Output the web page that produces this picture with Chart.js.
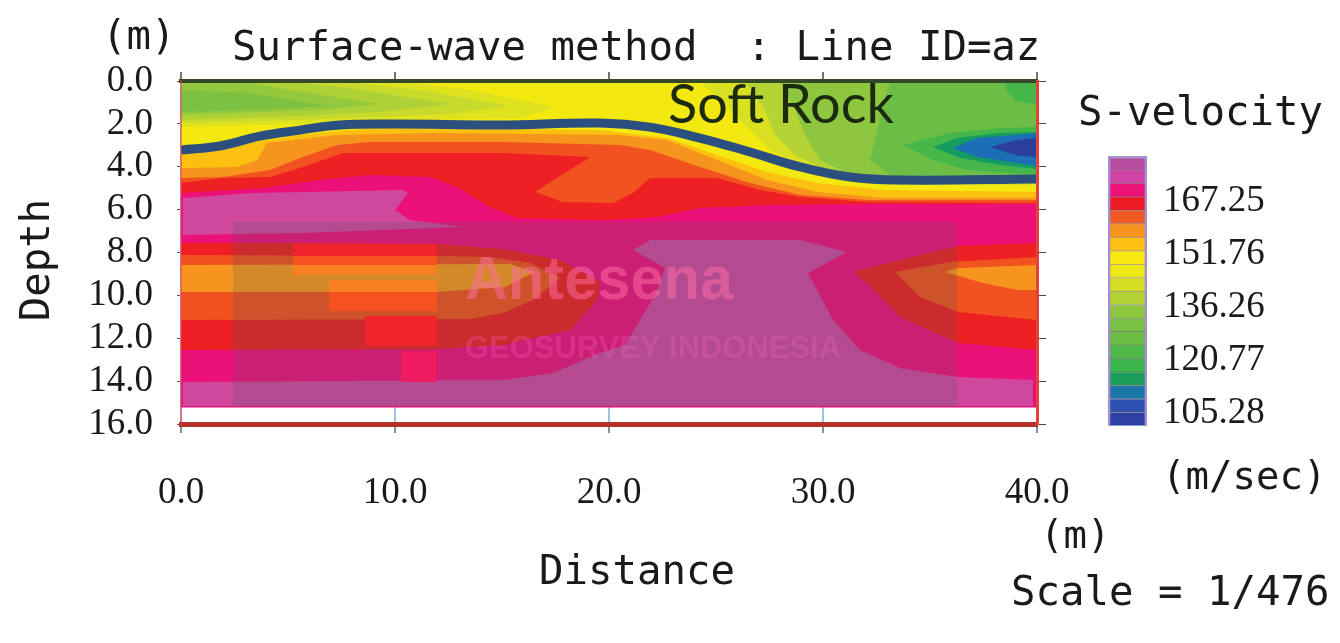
<!DOCTYPE html>
<html>
<head>
<meta charset="utf-8">
<script src="https://cdn.jsdelivr.net/npm/chart.js@4"></script>
<style>
  html, body { margin: 0; background: #fff; }
  #wrap { position: relative; width: 1340px; height: 643px; overflow: hidden; }
  canvas { position: absolute; }
</style>
</head>
<body>
<div id="wrap">
  <canvas id="section" width="1340" height="643" style="left:0;top:0"></canvas>
  <canvas id="scalebar" width="180" height="330" style="left:1108px;top:126px"></canvas>
</div>
<script>
// contour bands as [distance, depth] outlines in metres
const baseBand = [[0,0],[40,0],[40,15.23],[0,15.23]];
const upperPurple = [[0.09,5.46],[3.36,5.22],[10.37,5.08],[10.61,5.22],[10,6.02],[10.70,6.48],[13.18,6.81],[5.70,7.09],[0.09,7.18]];
const lowerPurple = [[0.09,14.04],[15.05,13.95],[17.38,13.62],[19.58,12.69],[20.75,12.31],[22.15,9.98],[22.62,8.72],[21.12,7.88],[21.92,7.42],[28.93,7.42],[31.12,7.98],[29.30,8.96],[30.47,11.15],[31.73,12.55],[33.60,13.39],[36.31,13.81],[39.81,13.95],[39.81,15.16],[0.09,15.16]];

const leftRed = [[0,7.56],[5.56,7.56],[11.96,7.60],[15.05,7.84],[17.71,8.35],[19.58,9.38],[19.44,10.21],[18.18,11.61],[15.05,12.31],[11.96,12.50],[0,12.55]];
const leftOrangeRed = [[0,8.12],[11.96,8.16],[14.44,8.21],[16.31,8.49],[17.71,9.19],[16.45,10.21],[15.05,10.82],[13.50,11.10],[0,11.15]];
const leftOrange = [[0,8.58],[15.37,8.54],[16.54,8.91],[15.14,9.61],[11.96,9.84],[0,9.84]];
const rightRed = [[31.40,8.91],[33.60,8.35],[36.31,7.70],[40,7.56],[40,12.55],[36.31,12.22],[33.60,11.01],[32.06,9.42]];
const rightOrangeRed = [[33.36,8.91],[35.93,8.44],[40,8.21],[40,11.15],[36.31,10.77],[34.53,10.07]];
const rightOrange = [[35.70,8.91],[36.31,8.72],[40,8.58],[40,9.75],[39.07,9.75],[37.48,9.42]];

const topRed = [[0,0],[0,5.22],[3.83,4.99],[6.50,4.62],[8.83,4.38],[11.64,4.48],[12.90,4.94],[14.44,5.88],[15.70,6.39],[19.58,6.48],[22.24,6.34],[24.25,5.92],[27.38,5.78],[32.06,5.74],[40,5.74],[40,0]];
const topOrangeRed = [[0,0],[0,4.76],[1.96,4.52],[4.16,4.48],[5.70,4.01],[7.57,3.36],[10.37,3.36],[15.05,3.36],[19.11,3.54],[16.54,5.18],[17.85,5.64],[20.19,5.69],[21.12,5.22],[21.92,4.52],[25.05,4.52],[27.06,5.08],[28.93,5.41],[32.06,5.64],[40,5.69],[40,0]];
const topOrange = [[0,0],[0,4.52],[1.96,4.48],[4.16,4.15],[5.70,3.54],[7.29,2.99],[8.83,2.85],[15.05,2.85],[20.51,2.99],[21.92,3.22],[24.25,4.01],[26.59,4.76],[28.93,5.32],[32.06,5.55],[40,5.55],[40,0]];
const topAmber = [[0,0],[0,4.06],[2.62,4.01],[3.55,3.68],[4.02,2.89],[7.29,2.52],[11.96,2.43],[20.51,2.52],[22.71,2.75],[25.05,3.68],[27.38,4.62],[29.72,5.18],[32.80,5.46],[40,5.46],[40,0]];
const topYellow = [[0,0],[0,3.22],[2.62,2.99],[5.56,2.52],[8.83,2.19],[11.96,2.19],[19.58,2.29],[22.71,2.66],[25.05,3.45],[27.38,4.24],[29.72,4.76],[32.80,5.08],[40,5.18],[40,0]];

const leftLimeA = [[0,0],[10.23,0],[13.50,0.42],[17.48,1.21],[15.84,1.73],[10.23,1.82],[5.56,2.01],[0,2.15]];
const leftLimeB = [[0,0],[7.43,0],[11.17,0.42],[15.37,1.17],[12.57,1.54],[5.56,1.82],[0,1.96]];
const leftLimeC = [[0,0],[4.81,0],[7.85,0.33],[12.57,1.07],[9.30,1.45],[5.56,1.63],[0,1.82]];
const leftGreenA = [[0,0.09],[2.76,0],[5.09,0.42],[9.30,1.07],[6.50,1.35],[0,1.59]];
const leftGreenB = [[0,0.42],[3.22,0.56],[6.96,1.17],[3.22,1.35],[0,1.45]];

const rightLimeA = [[24.25,0],[40,0],[40,4.85],[32.66,4.85],[29.86,4.38],[27.52,3.22],[26.36,2.05],[25.19,0.89]];
const rightLimeB = [[26.36,0],[40,0],[40,4.76],[32.66,4.76],[30.33,4.24],[28.69,3.45],[27.76,2.52],[27.29,1.35]];
const rightLimeC = [[27.99,0],[40,0],[40,4.66],[33.13,4.66],[31.26,4.38],[29.86,3.68],[29.16,2.52],[28.69,1.35]];
const rightGreenA = [[33.13,0],[40,0],[40,4.66],[34.07,4.66],[33.13,4.38],[32.20,3.68],[32.66,1.82]];
const cornerGreen = [[38.55,0],[40,0],[40,1.12],[38.97,0.89],[38.55,0.42]];
const lowLensGreen = [[33.74,2.99],[35.93,2.43],[38.27,2.19],[40,2.15],[40,4.38],[36.73,4.15],[35.14,3.68]];
const lowLensTeal = [[35.14,3.08],[36.26,2.66],[38.27,2.43],[40,2.38],[40,4.10],[38.27,3.92],[36.40,3.59]];
const lowLensBlue = [[36.07,3.13],[37.20,2.66],[39.07,2.52],[40,2.43],[40,3.97],[39.07,3.82],[37.20,3.54]];
const lowLensNavy = [[37.80,3.08],[39.07,2.75],[40,2.66],[40,3.54],[39.07,3.47]];

// processing window, dims everything under it
const windowBand = [[2.43,6.58],[36.26,6.58],[36.26,15.16],[2.43,15.16]];

// undimmed blocks left of x=12
const stepRedA = [[5.23,7.60],[11.96,7.60],[11.96,8.16],[5.23,8.16]];
const stepOrangeRedA = [[5.23,8.16],[11.96,8.16],[11.96,8.58],[5.23,8.58]];
const stepOrangeA = [[5.23,8.58],[11.96,8.58],[11.96,9.05],[5.23,9.05]];
const stepOrangeB = [[6.92,9.28],[11.96,9.28],[11.96,9.84],[6.92,9.84]];
const stepOrangeRedB = [[6.92,9.84],[11.96,9.84],[11.96,10.73],[6.92,10.73]];
const stepRedC = [[8.60,10.96],[11.96,10.96],[11.96,12.36],[8.60,12.36]];
const stepPink = [[10.28,12.59],[11.96,12.59],[11.96,14.04],[10.28,14.04]];

// bedrock interface
const interfaceLine = [[0,3.22],[1.82,3.03],[3.69,2.57],[5.56,2.29],[7.43,2.05],[10.23,2.01],[14.91,2.05],[19.58,1.96],[21.92,2.15],[24.25,2.66],[26.59,3.31],[28.93,4.01],[31.26,4.48],[33.60,4.62],[40,4.57]];

// scale bar
const bandEdges = [101.76,105.70,109.63,113.57,117.50,121.44,125.37,129.31,133.24,137.18,141.11,145.05,148.98,152.92,156.85,160.79,164.72,168.66,172.59,176.53,180.47];
const bandColors = ['#2e3fa3','#2e50b0','#1c75a8','#1b9e5a','#39b54a','#4eb848','#6cbd45','#79c142','#8dc63f','#b5d334','#d7df23','#eee814','#fbea11','#fdc010','#f7941d','#f15a22','#ed1c24','#ec1278','#cf45a6','#b94ea0'];
const barTicks = [105.28,120.77,136.26,151.76,167.25];

const shapes = [
  [baseBand, '#ec1178'],
  [upperPurple, '#d0489e'], [lowerPurple, '#d0489e'],
  [leftRed, '#ee2024'], [leftOrangeRed, '#f1521f'], [leftOrange, '#f7941e'],
  [rightRed, '#ee2024'], [rightOrangeRed, '#f1521f'], [rightOrange, '#f7941e'],
  [topRed, '#ee2024'], [topOrangeRed, '#f1521f'], [topOrange, '#f7941e'],
  [topAmber, '#fcc010'], [topYellow, '#f3e80f'],
  [leftLimeA, '#dfe21e'], [leftLimeB, '#c8da2b'], [leftLimeC, '#aed136'],
  [leftGreenA, '#95c93d'], [leftGreenB, '#7cc142'],
  [rightLimeA, '#d9e021'], [rightLimeB, '#b5d334'], [rightLimeC, '#8dc63f'], [rightGreenA, '#6cbd45'],
  [cornerGreen, '#45b649'], [lowLensGreen, '#45b649'], [lowLensTeal, '#169b62'],
  [lowLensBlue, '#1b6fb5'], [lowLensNavy, '#2a3f9d'],
  [windowBand, 'rgba(70,90,90,0.2)'],
  [stepRedA, '#f0242a'], [stepOrangeRedA, '#f5521f'], [stepOrangeA, '#f97f20'],
  [stepOrangeB, '#f97f20'], [stepOrangeRedB, '#f5521f'], [stepRedC, '#f0242a'], [stepPink, '#ee1a62']
];

const toPoints = arr => arr.map(p => ({ x: p[0], y: p[1] }));

// chart draws low order last, first layer needs the highest order
const datasets = shapes.map((s, i) => ({
  data: toPoints(s[0]),
  showLine: true,
  fill: 'shape',
  backgroundColor: s[1],
  borderWidth: 0,
  pointRadius: 0,
  order: shapes.length + 1 - i
}));
datasets.push({
  data: toPoints(interfaceLine),
  showLine: true,
  fill: false,
  borderColor: '#2b5080',
  borderWidth: 9,
  tension: 0.4,
  pointRadius: 0,
  order: 0
});

const MONO = '"DejaVu Sans Mono"';
const captions = [
  { text: 'Surface-wave method  : Line ID=az', x: 232, y: 49, font: '40.7px ' + MONO },
  { text: '(m)', x: 102, y: 38, font: '40.7px ' + MONO },
  { text: 'S-velocity', x: 1078, y: 114, font: '40.7px ' + MONO },
  { text: '(m/sec)', x: 1162, y: 479, font: '39px ' + MONO },
  { text: '(m)', x: 1040, y: 538, font: '39px ' + MONO },
  { text: 'Distance', x: 539, y: 573, font: '40.7px ' + MONO },
  { text: 'Scale = 1/476', x: 1011, y: 594, font: '40.7px ' + MONO },
  { text: 'Depth', x: 38, y: 260, font: '40.7px ' + MONO, rotate: -Math.PI / 2, align: 'center' }
];
const overlays = [
  { text: 'Soft Rock', x: 668, y: 106, font: '54px Lato', color: '#1c2a10', width: 226 },
  { text: 'Antesena', x: 465, y: 282, font: 'bold 62px "Liberation Sans"', color: 'rgba(255,110,165,0.5)', width: 268 },
  { text: 'GEOSURVEY INDONESIA', x: 465, y: 349, font: 'bold 31px "Liberation Sans"', color: 'rgba(250,100,210,0.25)', width: 376 }
];

function putText(ctx, t, color) {
  ctx.save();
  ctx.font = t.font;
  ctx.fillStyle = t.color || color;
  ctx.textBaseline = 'middle';
  ctx.textAlign = t.align || 'left';
  ctx.translate(t.x, t.y);
  if (t.rotate) ctx.rotate(t.rotate);
  if (t.width) ctx.fillText(t.text, 0, 0, t.width);
  else ctx.fillText(t.text, 0, 0);
  ctx.restore();
}

const textPlugin = {
  id: 'sectionText',
  afterDatasetsDraw(chart) { overlays.forEach(t => putText(chart.ctx, t)); },
  afterDraw(chart) { captions.forEach(t => putText(chart.ctx, t, '#1a1a1a')); }
};

const SERIF = '"Liberation Serif"';

new Chart(document.getElementById('section'), {
  type: 'scatter',
  data: { datasets },
  plugins: [textPlugin],
  options: {
    responsive: false,
    animation: false,
    events: [],
    plugins: { legend: { display: false }, tooltip: { enabled: false }, title: { display: false } },
    layout: { padding: 0 },
    scales: {
      x: {
        type: 'linear', position: 'bottom', min: 0, max: 40,
        afterFit(s) { s.height = 219; },
        grid: { color: '#9cc3e0', tickColor: '#8a8f98', tickLength: 9, lineWidth: 2 },
        border: { color: '#b5322a', width: 5, z: 1 },
        ticks: {
          stepSize: 10, maxRotation: 0, padding: 38, color: '#1a1a1a', autoSkip: false,
          font: { family: SERIF, size: 37 },
          callback: v => v.toFixed(1)
        }
      },
      xTop: {
        type: 'linear', position: 'top', min: 0, max: 40,
        afterFit(s) { s.height = 81; },
        grid: { drawOnChartArea: false, tickColor: '#6f7570', tickLength: 9, lineWidth: 2 },
        border: { color: '#33492a', width: 4, z: 1 },
        ticks: { stepSize: 10, display: false }
      },
      y: {
        type: 'linear', position: 'left', min: 0, max: 16, reverse: true,
        afterFit(s) { s.width = 181; },
        grid: { drawOnChartArea: false, tickColor: '#555', tickLength: 4 },
        border: { color: 'rgba(238,59,74,0.55)', width: 2, z: 1 },
        ticks: {
          stepSize: 2, padding: 24, color: '#1a1a1a', autoSkip: false,
          font: { family: SERIF, size: 37 },
          callback: v => v.toFixed(1)
        }
      },
      yRight: {
        type: 'linear', position: 'right', min: 0, max: 16, reverse: true,
        afterFit(s) { s.width = 303; },
        grid: { drawOnChartArea: false, tickColor: '#4a4a4a', tickLength: 9 },
        border: { color: '#e8403a', width: 3, z: 1 },
        ticks: { stepSize: 2, display: false }
      }
    }
  }
});

// colour scale, one floating bar per velocity band plus an outline
const barSets = bandColors.map((c, i) => ({
  data: [[bandEdges[i], bandEdges[i + 1]]],
  backgroundColor: c,
  borderColor: 'rgba(40,20,30,0.45)',
  borderWidth: 1,
  barPercentage: 1,
  categoryPercentage: 1,
  order: 1
}));
barSets.push({
  data: [[bandEdges[0], bandEdges[bandEdges.length - 1]]],
  backgroundColor: 'transparent',
  borderColor: '#a48fd2',
  borderWidth: 2,
  barPercentage: 1,
  categoryPercentage: 1,
  order: 0
});

new Chart(document.getElementById('scalebar'), {
  type: 'bar',
  data: { labels: [''], datasets: barSets },
  options: {
    responsive: false,
    animation: false,
    events: [],
    plugins: { legend: { display: false }, tooltip: { enabled: false } },
    layout: { padding: { top: 0, bottom: 25 } },
    scales: {
      x: { display: false, stacked: true },
      y: {
        position: 'right', min: 101.76, max: 180.47,
        afterFit(s) { s.width = 141; },
        afterBuildTicks(s) { s.ticks = barTicks.map(v => ({ value: v })); },
        grid: { display: false },
        border: { display: false },
        ticks: {
          padding: 8, color: '#1a1a1a', autoSkip: false,
          font: { family: SERIF, size: 37 },
          callback: v => v.toFixed(2)
        }
      }
    }
  }
});
</script>
</body>
</html>
